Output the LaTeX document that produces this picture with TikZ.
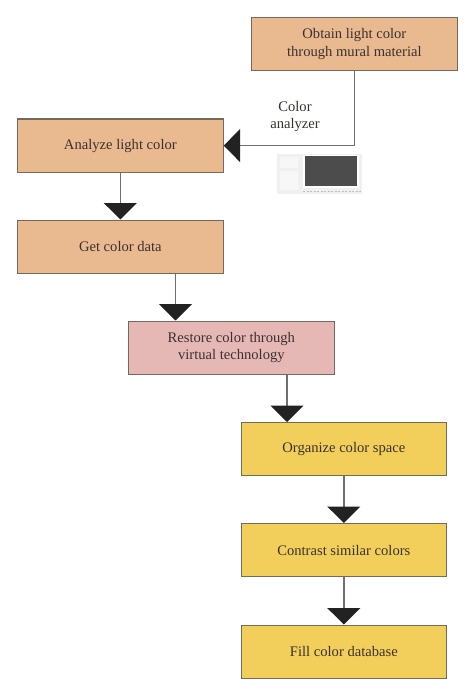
\documentclass[tikz,border=0pt]{standalone}
\usepackage{fontspec}
\setmainfont{Liberation Serif}
\usetikzlibrary{arrows.meta,calc}
\definecolor{tanfill}{HTML}{E9B98F}
\definecolor{pinkfill}{HTML}{E6B8B5}
\definecolor{yellowfill}{HTML}{F2CF5B}
\definecolor{boxedge}{HTML}{75695E}
\definecolor{linegrey}{HTML}{707070}
\definecolor{tipblack}{HTML}{222222}
\definecolor{txt}{HTML}{3A3230}
\tikzset{
  x=1pt,y=-1pt,
  flowbox/.style={draw=boxedge,line width=1.2pt,minimum width=205.5pt,minimum height=53pt,
    inner sep=0pt,align=center,text=txt,font=\fontsize{14.6}{17.6}\selectfont,anchor=north west},
  tanbox/.style={flowbox,fill=tanfill},
  pinkbox/.style={flowbox,fill=pinkfill},
  yellowbox/.style={flowbox,fill=yellowfill},
  flowline/.style={draw=linegrey,line width=1.4pt,
    -{Triangle[length=16.5pt,width=33pt,color=tipblack,fill=tipblack]}},
  label/.style={text=txt,align=center,font=\fontsize{14.6}{17.6}\selectfont}
}
\begin{document}
\begin{tikzpicture}
\useasboundingbox (0,0) rectangle (474,695);
\fill[white] (0,0) rectangle (474,695);
\node[tanbox] (obtain) at (251,17) {Obtain light color\\through mural material};
\node[tanbox] (analyze) at (17,118.5) {Analyze light color};
\node[tanbox] (get) at (17,219.5) {Get color data};
\node[pinkbox] (restore) at (128,320.5) {Restore color through\\virtual technology};
\node[yellowbox] (organize) at (240.5,422) {Organize color space};
\node[yellowbox] (contrast) at (240.5,523) {Contrast similar colors};
\node[yellowbox] (fill) at (240.5,624.5) {Fill color database};
\node[label] (analyzerlabel) at (295,116.5) {Color\\analyzer};
% connectors
\draw[flowline] (obtain.south) |- (analyze.east);
\draw[flowline] (analyze.south) -- (get.north);
\coordinate (gettap) at ($(get.south west)+(158.5,0)$);
\draw[flowline] (gettap) -- (gettap |- restore.north);
\coordinate (restoretap) at ($(restore.south west)+(159,0)$);
\draw[flowline] (restoretap) -- (restoretap |- organize.north);
\draw[flowline] (organize.south) -- (contrast.north);
\draw[flowline] (contrast.south) -- (fill.north);
% analyzer device
\fill[black!6] (277,154) rectangle (362,194);
\fill[black!3] (280,157) rectangle (298,168);
\fill[black!3] (280,171) rectangle (298,190);
\fill[white] (303,155) rectangle (358.5,187.5);
\fill[black!70] (304.5,156.5) rectangle (357,186);
\draw[black!25,line width=1pt,dash pattern=on 2pt off 1.5pt] (303,191) -- (361,191);
\end{tikzpicture}
\end{document}
